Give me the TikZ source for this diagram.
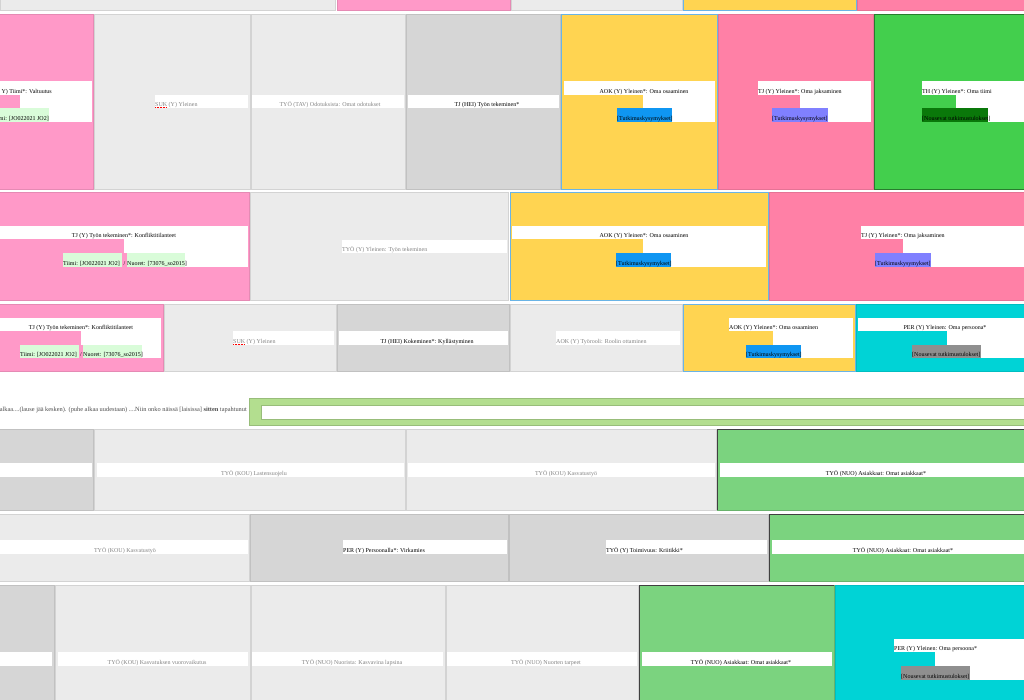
\documentclass[tikz,border=0pt]{standalone}
\usepackage{fontspec}
\setmainfont{Liberation Serif}
\usepackage{tikz}
\definecolor{pinkA}{HTML}{FF99C8}
\definecolor{pinkB}{HTML}{FF80A6}
\definecolor{grayL}{HTML}{EBEBEB}
\definecolor{grayM}{HTML}{D6D6D6}
\definecolor{yel}{HTML}{FFD451}
\definecolor{selBlue}{HTML}{6AB4E6}
\definecolor{tagBlue}{HTML}{0F96F2}
\definecolor{tagViolet}{HTML}{8080FF}
\definecolor{grnA}{HTML}{43CF4D}
\definecolor{grnDark}{HTML}{0A780A}
\definecolor{tagMint}{HTML}{D9FCD9}
\definecolor{cyanA}{HTML}{00D3D6}
\definecolor{tagGray}{HTML}{8F8F8F}
\definecolor{grnB}{HTML}{7BD37F}
\definecolor{barGrn}{HTML}{B3DE8F}
\definecolor{txtGray}{HTML}{848484}
\tikzset{
  seg/.style={fill=#1, draw=#1!90!black, line width=0.6pt},
  segsel/.style={fill=yel, draw=selBlue, line width=0.8pt},
  segcode/.style={fill=grnB, draw=grnB!85!black, line width=0.6pt},
  darkedge/.style={draw=black!75, line width=1pt},
  lab/.style={anchor=base, text=black},
  labw/.style={anchor=base west, text=black},
  dim/.style={anchor=base, text=txtGray},
  dimw/.style={anchor=base west, text=txtGray},
}
\begin{document}
\begin{tikzpicture}[x=1pt, y=-1pt, every node/.style={font=\fontsize{6}{7}\selectfont, inner sep=0pt}]
\useasboundingbox (0,0) rectangle (1024,699);
\clip (0,0) rectangle (1024,699);
\fill[white] (0,0) rectangle (1024,699);
% row 0
\draw[seg=grayL] (0,-2) rectangle (335,10);
\draw[seg=pinkA] (337,-2) rectangle (510,10);
\draw[seg=grayL] (511,-2) rectangle (682,10);
\draw[segsel] (683,-2) rectangle (856,10);
\draw[seg=pinkB] (857,-2) rectangle (1026,10);
% row 1
\draw[seg=pinkA] (-2,14) rectangle (93,189);
\fill[white] (-2,81) rectangle (92,122);
\fill[pinkA] (-2,95) rectangle (20,108);
\fill[tagMint] (-2,108) rectangle (49,122);
\node[lab, anchor=base east] (tiimiA) at (52,93) {Y) Tiimi*: Valtuutus};
\node[lab, anchor=base east] (tiimiAtag) at (49,120) {imi: [JO022021 JO2]};
\draw[seg=grayL] (94,14) rectangle (250,189);
\draw[seg=grayL] (251,14) rectangle (405,189);
\fill[white] (155,95) rectangle (248,108);
\node[dimw] (sukA) at (155,106) {SUK (Y) Yleinen};
\draw[red, densely dotted, line width=0.5pt] (155,107.6) -- (167,107.6);
\fill[white] (252,95) rectangle (404,108);
\node[dim] (tavA) at (330,106) {TYÖ (TAV) Odotuksista: Omat odotukset};
\draw[seg=grayM] (406,14) rectangle (560,189);
\fill[white] (408,95) rectangle (559,108);
\node[lab] (heiA) at (487,106) {TJ (HEI) Työn tekeminen*};
\draw[segsel] (561,14) rectangle (717,189);
\fill[white] (564,81) rectangle (715,122);
\fill[yel] (564,95) rectangle (643,108);
\fill[yel] (564,108) rectangle (617,122);
\fill[tagBlue] (617,108) rectangle (672,122);
\node[lab] (aokA) at (644,93) {AOK (Y) Yleinen*: Oma osaaminen};
\node[labw] (aokAtag) at (617,120) {[Tutkimuskysymykset]};
\draw[seg=pinkB] (718,14) rectangle (873,189);
\fill[white] (758,81) rectangle (871,122);
\fill[pinkB] (758,95) rectangle (800,108);
\fill[pinkB] (758,108) rectangle (772,122);
\fill[tagViolet] (772,108) rectangle (828,122);
\node[labw] (jakA) at (758,93) {TJ (Y) Yleinen*: Oma jaksaminen};
\node[labw] (jakAtag) at (772,120) {[Tutkimuskysymykset]};
\draw[fill=grnA, draw=grnA!60!black, line width=0.8pt] (874,14) rectangle (1026,189);
\fill[white] (922,81) rectangle (1026,122);
\fill[grnA] (922,95) rectangle (956,108);
\fill[grnDark] (922,108) rectangle (988,122);
\node[labw] (thA) at (922,93) {TH (Y) Yleinen*: Oma tiimi};
\node[labw] (thAtag) at (922,120) {[Nousevat tutkimustulokset]};
% row 2
\draw[seg=pinkA] (-2,192) rectangle (249,300);
\fill[white] (-2,226) rectangle (248,267);
\fill[pinkA] (-2,239) rectangle (124,253);
\fill[pinkA] (-2,253) rectangle (127,267);
\fill[tagMint] (63,253) rectangle (122,267);
\fill[tagMint] (127,253) rectangle (185,267);
\node[lab] (konfB) at (124,237) {TJ (Y) Työn tekeminen*: Konfliktitilanteet};
\node[labw] (konfBtag) at (63,265) {Tiimi: [JO022021 JO2]};
\node[lab] (konfBsl) at (124.5,265) {/};
\node[labw] (konfBtag2) at (127,265) {Nuoret: [73076\_so2015]};
\draw[seg=grayL] (250,192) rectangle (508,300);
\fill[white] (342,240) rectangle (507,253);
\node[dimw] (tyoB) at (342,251) {TYÖ (Y) Yleinen: Työn tekeminen};
\draw[segsel] (510,192) rectangle (768,300);
\fill[white] (512,226) rectangle (766,267);
\fill[yel] (512,239) rectangle (643,253);
\fill[yel] (512,253) rectangle (616,267);
\fill[tagBlue] (616,253) rectangle (671,267);
\node[lab] (aokB) at (644,237) {AOK (Y) Yleinen*: Oma osaaminen};
\node[labw] (aokBtag) at (616,265) {[Tutkimuskysymykset]};
\draw[seg=pinkB] (769,192) rectangle (1026,300);
\fill[white] (861,226) rectangle (1026,267);
\fill[pinkB] (861,239) rectangle (903,253);
\fill[pinkB] (861,253) rectangle (875,267);
\fill[tagViolet] (875,253) rectangle (931,267);
\node[labw] (jakB) at (861,237) {TJ (Y) Yleinen*: Oma jaksaminen};
\node[labw] (jakBtag) at (875,265) {[Tutkimuskysymykset]};
% row 3
\draw[seg=pinkA] (-2,304) rectangle (163,371);
\fill[white] (-2,318) rectangle (161,358);
\fill[pinkA] (-2,331) rectangle (81,345);
\fill[pinkA] (-2,345) rectangle (83,358);
\fill[tagMint] (20,345) rectangle (79,358);
\fill[tagMint] (83,345) rectangle (142,358);
\node[lab] (konfC) at (81,329) {TJ (Y) Työn tekeminen*: Konfliktitilanteet};
\node[labw] (konfCtag) at (20,356) {Tiimi: [JO022021 JO2]};
\node[lab] (konfCsl) at (81,356) {/};
\node[labw] (konfCtag2) at (83,356) {Nuoret: [73076\_so2015]};
\draw[seg=grayL] (164,304) rectangle (336,371);
\fill[white] (233,331) rectangle (334,345);
\node[dimw] (sukC) at (233,343) {SUK (Y) Yleinen};
\draw[red, densely dotted, line width=0.5pt] (233,344.6) -- (245,344.6);
\draw[seg=grayM] (337,304) rectangle (509,371);
\fill[white] (339,331) rectangle (508,345);
\node[lab] (heiC) at (427,343) {TJ (HEI) Kokeminen*: Kyllästyminen};
\draw[seg=grayL] (510,304) rectangle (682,371);
\fill[white] (556,331) rectangle (680,345);
\node[dimw] (rooliC) at (556,343) {AOK (Y) Työrooli: Roolin ottaminen};
\draw[segsel] (683,304) rectangle (855,371);
\fill[white] (729,318) rectangle (853,358);
\fill[yel] (729,331) rectangle (773,345);
\fill[yel] (729,345) rectangle (746,358);
\fill[tagBlue] (746,345) rectangle (801,358);
\node[labw] (aokC) at (729,329) {AOK (Y) Yleinen*: Oma osaaminen};
\node[labw] (aokCtag) at (746,356) {[Tutkimuskysymykset]};
\draw[seg=cyanA] (856,304) rectangle (1026,371);
\fill[white] (858,318) rectangle (1026,358);
\fill[cyanA] (858,331) rectangle (947,345);
\fill[cyanA] (858,345) rectangle (912,358);
\fill[tagGray] (912,345) rectangle (981,358);
\node[lab] (perC) at (945,329) {PER (Y) Yleinen: Oma persoona*};
\node[labw] (perCtag) at (912,356) {[Nousevat tutkimustulokset]};
% row 4: transcript line
\node[anchor=base east, text=black!70, font=\fontsize{6.35}{7}\selectfont] (puhe) at (247,411)
  {alkaa....(lause jää kesken). (puhe alkaa uudestaan) ....Niin onko näissä [laisissa] \textbf{sitten} tapahtunut};
\draw[fill=barGrn, draw=barGrn!85!black, line width=0.6pt] (249,398) rectangle (1026,425);
\draw[fill=white, draw=barGrn!85!black, line width=0.6pt] (261,405) rectangle (1026,419);
% row 5
\draw[seg=grayM] (-2,429) rectangle (93,510);
\fill[white] (-2,463) rectangle (92,477);
\draw[seg=grayL] (94,429) rectangle (405,510);
\fill[white] (97,463) rectangle (404,477);
\node[dim] (lsE) at (254,475) {TYÖ (KOU) Lastensuojelu};
\draw[seg=grayL] (406,429) rectangle (716,510);
\fill[white] (408,463) rectangle (715,477);
\node[dim] (kasE) at (566,475) {TYÖ (KOU) Kasvatustyö};
\draw[segcode] (717,429) rectangle (1026,510);
\draw[darkedge] (717.5,510) -- (717.5,429.5) -- (1026,429.5);
\fill[white] (720,463) rectangle (1026,477);
\node[lab] (asiE) at (876,475) {TYÖ (NUO) Asiakkaat: Omat asiakkaat*};
% row 6
\draw[seg=grayL] (-2,514) rectangle (249,581);
\fill[white] (-2,540) rectangle (248,554);
\node[dim] (kasF) at (125,552) {TYÖ (KOU) Kasvatustyö};
\draw[seg=grayM] (250,514) rectangle (508,581);
\fill[white] (343,540) rectangle (507,554);
\node[labw] (perF) at (343,552) {PER (Y) Persoonalla*: Virkamies};
\draw[seg=grayM] (509,514) rectangle (768,581);
\fill[white] (606,540) rectangle (767,554);
\node[labw] (toimF) at (606,552) {TYÖ (Y) Toimivuus: Kriitikki*};
\draw[segcode] (769,514) rectangle (1026,581);
\draw[darkedge] (769.5,581) -- (769.5,514.5) -- (1026,514.5);
\fill[white] (772,540) rectangle (1026,554);
\node[lab] (asiF) at (903,552) {TYÖ (NUO) Asiakkaat: Omat asiakkaat*};
% row 7
\draw[seg=grayM] (-2,585) rectangle (54,701);
\fill[white] (-2,652) rectangle (52,666);
\draw[seg=grayL] (55,585) rectangle (250,701);
\fill[white] (58,652) rectangle (248,666);
\node[dim] (vuoG) at (157,664) {TYÖ (KOU) Kasvatuksen vuorovaikutus};
\draw[seg=grayL] (251,585) rectangle (445,701);
\fill[white] (252,652) rectangle (443,666);
\node[dim] (lapG) at (352,664) {TYÖ (NUO) Nuorista: Kasvavina lapsina};
\draw[seg=grayL] (446,585) rectangle (638,701);
\fill[white] (447,652) rectangle (637,666);
\node[dim] (tarG) at (546,664) {TYÖ (NUO) Nuorten tarpeet};
\draw[segcode] (639,585) rectangle (834,701);
\draw[darkedge] (639.5,701) -- (639.5,585.5) -- (834,585.5);
\fill[white] (642,652) rectangle (832,666);
\node[lab] (asiG) at (741,664) {TYÖ (NUO) Asiakkaat: Omat asiakkaat*};
\draw[seg=cyanA] (835,585) rectangle (1026,701);
\fill[white] (894,639) rectangle (1026,680);
\fill[cyanA] (894,652) rectangle (935,666);
\fill[cyanA] (894,666) rectangle (901,680);
\fill[tagGray] (901,666) rectangle (970,680);
\node[labw] (perG) at (894,650) {PER (Y) Yleinen: Oma persoona*};
\node[labw] (perGtag) at (901,678) {[Nousevat tutkimustulokset]};
\end{tikzpicture}
\end{document}
